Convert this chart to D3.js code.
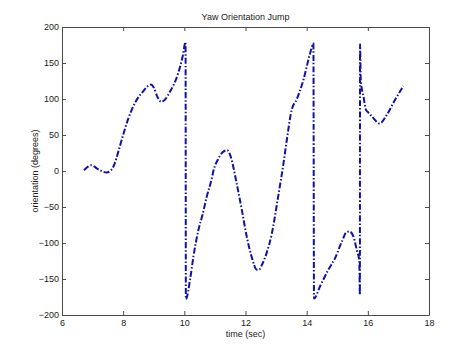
<!DOCTYPE html>
<html>
<head>
<meta charset="utf-8">
<script src="https://cdn.jsdelivr.net/npm/d3@7"></script>
<style>
  html, body { margin: 0; padding: 0; background: #fff; }
  svg text { font-family: "Liberation Sans", Arial, Helvetica, sans-serif; fill: #1a1a1a; }
</style>
</head>
<body>
<svg id="chart" width="474" height="355"></svg>
<script>
const title = "Yaw Orientation Jump";
const xLabel = "time (sec)";
const yLabel = "orientation (degrees)";

const xTicks = [6, 8, 10, 12, 14, 16, 18];
const yTicks = [-200, -150, -100, -50, 0, 50, 100, 150, 200];

const time = [6.72, 6.85, 6.95, 7.20, 7.46, 7.60, 7.70, 7.85, 7.95, 8.17, 8.39, 8.64, 8.90, 9.00, 9.12, 9.25, 9.40, 9.53, 9.80, 9.95, 10.04,
  10.05, 10.19, 10.30, 10.46, 10.60, 10.73, 10.90, 10.95, 11.10, 11.25, 11.40, 11.50, 11.55, 11.71, 11.88, 12.04, 12.20, 12.37, 12.45, 12.53, 12.69, 12.86, 13.07, 13.24, 13.35, 13.51, 13.67, 13.89, 14.11, 14.22,
  14.24, 14.44, 14.71, 14.93, 15.15, 15.30, 15.40, 15.53, 15.64, 15.72, 15.74,
  15.745, 15.77, 15.86, 15.94, 16.00, 16.13, 16.39, 16.62, 16.89, 17.16];
const yaw = [1, 6, 8, 2, -2, 1, 8, 28, 43, 73, 95, 110, 120, 116, 103, 96, 101, 110, 136, 160, 179,
  -178, -150, -118, -82, -60, -36, -10, 0, 16, 26, 29, 22, 15, -17, -54, -91, -119, -137, -137, -131, -114, -87, -35, 10, 43, 85, 99, 126, 163, 177,
  -177, -160, -137, -121, -98, -85, -84, -91, -110, -124, -172,
  176, 126, 103, 85, 82, 76, 66, 78, 99, 118];

const svg = d3.select("#chart");
const pL = 62, pR = 429, pT = 27, pB = 315;

const x = d3.scaleLinear().domain([6, 18]).range([pL, pR]);
const y = d3.scaleLinear().domain([-200, 200]).range([pB, pT]);

const axisColor = "#4a4a4a";
const tickLen = 4;

const gB = svg.append("g").attr("transform", `translate(0,${pB})`)
  .call(d3.axisBottom(x).tickValues(xTicks).tickSizeInner(-tickLen).tickSizeOuter(0).tickPadding(5).tickFormat(d3.format("d")));
const gT = svg.append("g").attr("transform", `translate(0,${pT})`)
  .call(d3.axisTop(x).tickValues(xTicks).tickSizeInner(-tickLen).tickSizeOuter(0).tickFormat(""));
const gL = svg.append("g").attr("transform", `translate(${pL},0)`)
  .call(d3.axisLeft(y).tickValues(yTicks).tickSizeInner(-tickLen).tickSizeOuter(0).tickPadding(3).tickFormat(d3.format("d")));
const gR = svg.append("g").attr("transform", `translate(${pR},0)`)
  .call(d3.axisRight(y).tickValues(yTicks).tickSizeInner(-tickLen).tickSizeOuter(0).tickFormat(""));

[gB, gT, gL, gR].forEach(g => {
  g.select(".domain").attr("stroke", axisColor).attr("stroke-width", 1);
  g.selectAll(".tick line").attr("stroke", axisColor);
  g.selectAll(".tick text").attr("font-size", 9).attr("fill", "#1a1a1a")
    .style("font-family", '"Liberation Sans", Arial, sans-serif');
});

const line = d3.line()
  .x((d, i) => x(time[i]))
  .y(d => y(d))
  .curve(d3.curveMonotoneX);

svg.append("path")
  .datum(yaw)
  .attr("d", line)
  .attr("fill", "none")
  .attr("stroke", "#1010a8")
  .attr("stroke-width", 2)
  .attr("stroke-dasharray", "6,2,1.5,2");

svg.append("text").attr("x", (pL + pR) / 2).attr("y", 20)
  .attr("text-anchor", "middle").attr("font-size", 9).text(title);
svg.append("text").attr("x", (pL + pR) / 2).attr("y", 337)
  .attr("text-anchor", "middle").attr("font-size", 9).text(xLabel);
svg.append("text").attr("transform", `translate(38,${(pT + pB) / 2}) rotate(-90)`)
  .attr("text-anchor", "middle").attr("font-size", 9).text(yLabel);
</script>
</body>
</html>
